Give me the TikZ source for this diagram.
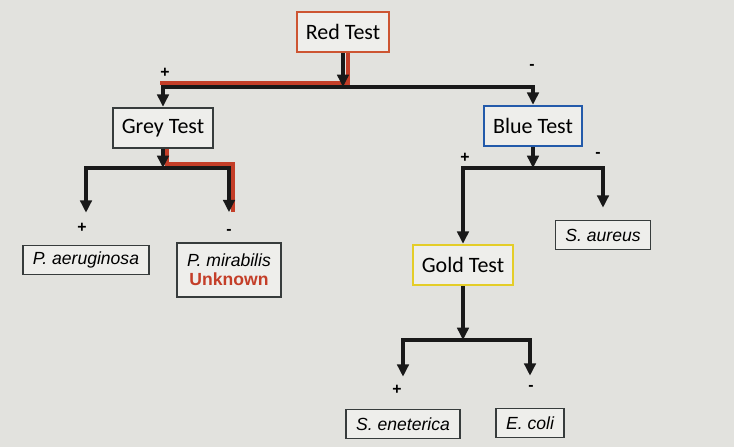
\documentclass[tikz,border=0pt]{standalone}
\usepackage{fontspec}
\usetikzlibrary{arrows.meta,calc}
\newfontfamily\testfont{Carlito}
\newfontfamily\specfont{Liberation Sans}
\definecolor{bgcol}{RGB}{226,226,222}
\definecolor{hlred}{RGB}{196,62,40}
\definecolor{redbox}{RGB}{205,85,50}
\definecolor{bluebox}{RGB}{35,90,170}
\definecolor{goldbox}{RGB}{228,205,40}
\definecolor{greybox}{RGB}{55,60,60}

\begin{document}
\begin{tikzpicture}[
  x=0.02cm, y=-0.02cm,
  testbox/.style={draw, line width=1.4pt, fill=bgcol!60!white, font=\testfont\fontsize{12.5}{14}\selectfont,
                  minimum height=0.8cm, inner xsep=0.18cm},
  species/.style={draw=greybox, line width=0.9pt, fill=bgcol!60!white,
                  font=\specfont\itshape\fontsize{10}{12}\selectfont,
                  minimum height=0.58cm, inner xsep=0.2cm, align=center},
  ln/.style={line width=1.8pt, draw=black!90},
  ar/.style={ln, -{Triangle[width=6.5pt,length=7pt]}},
  toleaf/.style={ar, shorten >=0.64cm},
  hl/.style={line width=2.4pt, draw=hlred},
  sign/.style={font=\specfont\bfseries\fontsize{9}{10}\selectfont, inner sep=1pt}]

% background sheet
\fill[bgcol] (0,0) rectangle (734,447);

% tests
\node[testbox, draw=redbox]   (red)  at (343,32)  {Red Test};
\node[testbox, draw=greybox]  (grey) at (163,128) {Grey Test};
\node[testbox, draw=bluebox]  (blue) at (533,126) {Blue Test};
\node[testbox, draw=goldbox]  (gold) at (463,265) {Gold Test};

% results
\node[species] (paer)  at (86,260)  {P. aeruginosa};
\node[species, minimum height=1.08cm] (pmir) at (229,270)
     {P. mirabilis\\[-1pt]{\upshape\bfseries\color{hlred}Unknown}};
\node[species] (saur)  at (603,235) {S. aureus};
\node[species] (sent)  at (403,424) {S. eneterica};
\node[species] (ecoli) at (530,423) {E. coli};

% branch points
\coordinate (jr) at (343,87);
\coordinate (jg) at (163,168);
\coordinate (jb) at (533,168);
\coordinate (jd) at (463,340);

% highlighted path (under the black lines)
\draw[hl] ($(red.south)+(5,0)$) |- ($(grey.north |- jr)+(-3,-4)$);
\draw[hl] ($(grey.south)+(4,0)$) -- ($(jg)+(4,-4)$) -| ($(pmir.north)+(4,-30)$);

% red test
\draw[ar] (red) -- (jr);
\draw[ar] (jr) -| (grey);
\draw[ar] (jr) -| (blue);
\node[sign] (rp) at (165,73) {+};
\node[sign] (rm) at (532,67) {-};

% grey test
\draw[ar] (grey) -- (jg);
\draw[toleaf] (jg) -| (paer);
\draw[toleaf, shorten >=0.6cm] (jg) -| (pmir);
\node[sign] (gp) at (82,228) {+};
\node[sign] (gm) at (229,232) {-};

% blue test
\draw[ar] (blue) -- (jb);
\draw[ar] (jb) -| (gold);
\draw[ar, shorten >=0.24cm] (jb) -| (saur);
\node[sign] (bp) at (465,158) {+};
\node[sign] (bm) at (598,155) {-};

% gold test
\draw[ar] (gold) -- (jd);
\draw[toleaf] (jd) -| (sent);
\draw[toleaf] (jd) -| (ecoli);
\node[sign] (dp) at (397,390) {+};
\node[sign] (dm) at (531,388) {-};
\end{tikzpicture}
\end{document}
